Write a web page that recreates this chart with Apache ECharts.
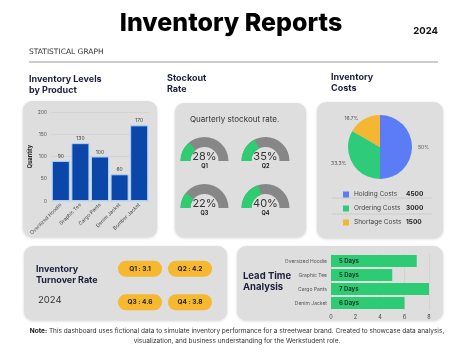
<!DOCTYPE html>
<html><head><meta charset="utf-8">
<script src="https://cdn.jsdelivr.net/npm/echarts@6/dist/echarts.min.js"></script>
<style>html,body{margin:0;padding:0;background:#fff}#c{width:474px;height:355px}</style>
</head><body><div id="c"></div>
<script>
// ---- data ----
const products = ['Oversized Hoodie', 'Graphic Tee', 'Cargo Pants', 'Denim Jacket', 'Bomber Jacket'];
const inventoryLevels = [90, 130, 100, 60, 170];
const quarters = ['Q1', 'Q2', 'Q3', 'Q4'];
const stockoutRates = [28, 35, 22, 40];
const costNames = ['Holding Costs', 'Ordering Costs', 'Shortage Costs'];
const costValues = [4500, 3000, 1500];
const turnoverRates = [3.1, 4.2, 4.6, 3.8];
const leadProducts = ['Oversized Hoodie', 'Graphic Tee', 'Cargo Pants', 'Denim Jacket'];
const leadDays = [7, 5, 8, 6];
const leadLabels = ['5 Days', '5 Days', '7 Days', '6 Days'];

// ---- styling ----
const FONT = 'Inter, "Noto Sans", sans-serif';
const HEAD = '#1b1f3b';
const PANEL = '#dedede';
const costColors = ['#5b7cf5', '#2ecc7a', '#f5b731'];

const chart = echarts.init(document.getElementById('c'), null, {renderer: 'canvas'});

function panel(x, y, w, h) {
  return {type: 'rect', z: -10, shape: {x, y, width: w, height: h, r: 9},
    style: {fill: PANEL, shadowBlur: 3, shadowColor: 'rgba(0,0,0,0.18)', shadowOffsetY: 1}};
}
function txt(x, y, text, size, weight, color, extra) {
  return Object.assign({type: 'text', x, y, z: 5, style: Object.assign({text, fontSize: size, fontWeight: weight,
    fontFamily: FONT, fill: color, align: 'left', verticalAlign: 'middle'}, extra || {})});
}

const gaugeCenters = [[204.5, 161], [265.5, 161], [204.5, 208], [265.5, 208]];
const gauges = quarters.map((q, i) => ({
  type: 'gauge', center: gaugeCenters[i], radius: 24, startAngle: 180, endAngle: 0, min: 0, max: 100,
  axisLine: {lineStyle: {width: 10, color: [[1, '#878787']]}},
  progress: {show: true, width: 10, itemStyle: {color: '#2fcc72'}},
  pointer: {show: false}, axisTick: {show: false}, splitLine: {show: false}, axisLabel: {show: false},
  anchor: {show: false},
  title: {offsetCenter: [0, 5], fontSize: 5.5, fontWeight: 'bold', color: '#222', fontFamily: FONT},
  detail: {offsetCenter: [0, -4], fontSize: 11, fontWeight: 'normal', color: '#333', fontFamily: FONT, formatter: '{value}%'},
  data: [{value: stockoutRates[i], name: q}]
}));

const option = {
  animation: false,
  backgroundColor: '#fff',
  textStyle: {fontFamily: FONT},
  grid: [
    {left: 51, right: 474 - 149, top: 112, bottom: 355 - 201},
    {left: 115, width: 100, top: 252, height: 67},
    {left: 331, right: 45, top: 254, bottom: 45}
  ],
  xAxis: [
    {gridIndex: 0, type: 'category', data: products,
      axisLine: {show: false}, axisTick: {show: false},
      axisLabel: {rotate: 45, fontSize: 5, color: '#444', margin: 3}},
    {gridIndex: 1, type: 'category', data: ['a', 'b'], show: false},
    {gridIndex: 2, type: 'value', min: 0, max: 8, interval: 2, show: true,
      axisLine: {show: false}, axisTick: {show: false},
      axisLabel: {show: true, fontSize: 5.5, color: '#444', margin: 4},
      splitLine: {lineStyle: {color: '#cbcbcb', width: 0.6}}}
  ],
  yAxis: [
    {gridIndex: 0, type: 'value', min: 0, max: 200, interval: 50,
      name: 'Quantity', nameLocation: 'middle', nameGap: 18,
      nameTextStyle: {fontSize: 5.5, fontWeight: 'bold', color: '#222'},
      axisLine: {show: false}, axisTick: {show: false},
      axisLabel: {fontSize: 5, color: '#555', margin: 4},
      splitLine: {lineStyle: {color: '#cdcdcd', width: 0.6}}},
    {gridIndex: 1, type: 'category', data: ['r1', 'r2'], inverse: true, show: false},
    {gridIndex: 2, type: 'category', data: leadProducts, inverse: true,
      axisLine: {show: false}, axisTick: {show: false},
      axisLabel: {fontSize: 5, color: '#555', margin: 4}}
  ],
  legend: {
    orient: 'vertical', left: 338, top: 186, itemWidth: 6, itemHeight: 6, itemGap: 7, icon: 'rect',
    selectedMode: false, data: costNames,
    formatter: name => `{n|${name}}{v|${costValues[costNames.indexOf(name)]}}`,
    textStyle: {fontSize: 6.5, color: '#444', rich: {
      n: {width: 52, fontSize: 6.5, color: '#444', fontFamily: FONT},
      v: {fontSize: 6.5, fontWeight: 'bold', color: '#222', fontFamily: FONT}}}
  },
  series: [
    {type: 'bar', xAxisIndex: 0, yAxisIndex: 0, data: inventoryLevels, barCategoryGap: '8%',
      itemStyle: {color: '#0b47a8', borderColor: '#a9d1ff', borderWidth: 1},
      label: {show: true, position: 'top', fontSize: 5, color: '#444', distance: 2}},
    {type: 'scatter', xAxisIndex: 1, yAxisIndex: 1,
      data: turnoverRates.map((v, i) => [i % 2, Math.floor(i / 2), v]),
      symbol: 'path://M8,0H36A8,8,0,0,1,36,16H8A8,8,0,0,1,8,0Z', symbolSize: [44, 16],
      itemStyle: {color: '#f5b82e', opacity: 1},
      label: {show: true, position: 'inside', fontSize: 6.5, fontWeight: 'bold', color: '#222',
        formatter: p => `${quarters[p.dataIndex]} : ${turnoverRates[p.dataIndex]}`}},
    {type: 'bar', xAxisIndex: 2, yAxisIndex: 2, data: leadDays, barWidth: 12,
      itemStyle: {color: '#2ccb74'},
      label: {show: true, position: 'insideLeft', offset: [3, 0], fontSize: 6, fontWeight: 'bold', color: '#173a26',
        formatter: p => leadLabels[p.dataIndex]}},
    {type: 'pie', center: [380, 147], radius: 32, startAngle: 90,
      label: {position: 'outside', fontSize: 5, color: '#555', formatter: p => (Math.round(p.percent * 10) / 10) + '%'},
      labelLine: {show: false, length: 1, length2: 0},
      data: costNames.map((n, i) => ({name: n, value: costValues[i], itemStyle: {color: costColors[i]}}))},
    ...gauges
  ],
  graphic: [
    panel(23, 101, 134, 136),
    panel(175, 103, 131, 134),
    panel(317, 102, 126, 136),
    panel(24, 246, 203, 74),
    panel(237, 246, 206, 74),
    txt(231, 23, 'Inventory Reports', 25, 800, '#000', {align: 'center'}),
    txt(438, 31, '2024', 9.5, 'bold', '#111', {align: 'right'}),
    txt(29, 52, 'STATISTICAL GRAPH', 7.5, 'normal', '#333', {fontFamily: '"DejaVu Sans", sans-serif'}),
    {type: 'line', shape: {x1: 29, y1: 62, x2: 438, y2: 62}, style: {stroke: '#bdbdbd', lineWidth: 1.5}},
    txt(29, 79, 'Inventory Levels', 9, 'bold', HEAD),
    txt(29, 90, 'by Product', 9, 'bold', HEAD),
    txt(167, 78, 'Stockout', 9, 'bold', HEAD),
    txt(167, 89, 'Rate', 9, 'bold', HEAD),
    txt(331, 77, 'Inventory', 9, 'bold', HEAD),
    txt(331, 88, 'Costs', 9, 'bold', HEAD),
    txt(190, 120, 'Quarterly stockout rate.', 8, 'normal', '#333'),
    {type: 'line', shape: {x1: 332, y1: 198, x2: 432, y2: 198}, style: {stroke: '#c6c6c6', lineWidth: 0.7}},
    {type: 'line', shape: {x1: 332, y1: 214, x2: 432, y2: 214}, style: {stroke: '#c6c6c6', lineWidth: 0.7}},
    txt(36, 269, 'Inventory', 9, 'bold', HEAD),
    txt(36, 280, 'Turnover Rate', 9, 'bold', HEAD),
    txt(38, 300, '2024', 9.5, 'normal', '#333'),
    txt(243, 276, 'Lead Time', 9.5, 'bold', HEAD),
    txt(243, 287, 'Analysis', 9.5, 'bold', HEAD),
    txt(237, 336, '{b|Note:} This dashboard uses fictional data to simulate inventory performance for a streetwear brand. Created to showcase data analysis,\nvisualization, and business understanding for the Werkstudent role.',
      6.5, 'normal', '#333', {align: 'center', lineHeight: 10, rich: {b: {fontWeight: 'bold', fontSize: 6.5, fill: '#111', fontFamily: FONT}}})
  ]
};
chart.setOption(option);
</script>
</body></html>
